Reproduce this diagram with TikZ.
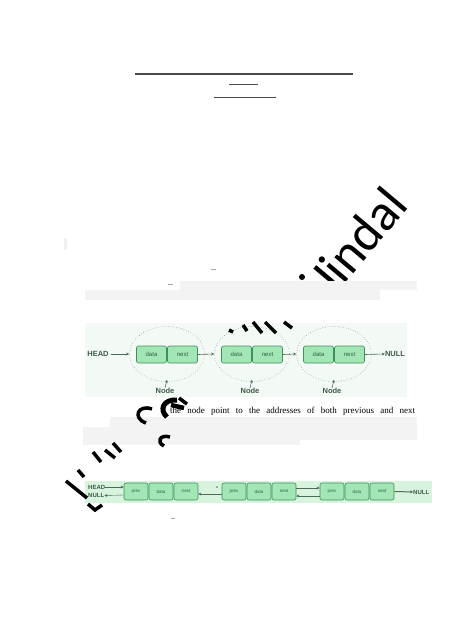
\documentclass[tikz,border=0pt]{standalone}
\usepackage{fontspec}
\setmainfont{Liberation Serif}
\newfontfamily\dsans{Liberation Sans}
\newfontfamily\wmfont{Carlito}
\usetikzlibrary{arrows.meta,shapes.geometric}
\definecolor{rulec}{HTML}{4A4A4A}
\definecolor{boxfill}{HTML}{A2E6B6}
\definecolor{boxedge}{HTML}{3F8F5A}
\definecolor{boxtext}{HTML}{2F5F40}
\definecolor{lbltext}{HTML}{3D5A47}
\definecolor{arrc}{HTML}{4A6E55}
\definecolor{ellc}{HTML}{9A9A9A}
\definecolor{bgone}{HTML}{F3FAF5}
\definecolor{bgtwo}{HTML}{D8F3DE}
\definecolor{bandc}{HTML}{F3F3F3}
\tikzset{
  cell/.style={rectangle, rounded corners=2pt, draw=boxedge, line width=0.6pt, fill=boxfill,
    minimum width=30pt, minimum height=17pt, inner sep=0pt, text=boxtext, font=\dsans\fontsize{6}{6}\selectfont},
  smallcell/.style={cell, minimum width=24pt, minimum height=17pt, font=\dsans\fontsize{4.5}{5}\selectfont},
  nodeell/.style={ellipse, draw=ellc, dotted, line width=0.6pt, minimum width=75pt, minimum height=55pt, inner sep=0pt},
  lbl/.style={inner sep=0pt, text=lbltext, font=\dsans\bfseries\fontsize{7.5}{8}\selectfont},
  smalllbl/.style={inner sep=0pt, text=lbltext, font=\dsans\bfseries\fontsize{6}{6}\selectfont},
  conn/.style={draw=arrc, line width=0.6pt, -{Stealth[length=3pt,width=3pt]}},
  wm/.style={line width=3.5pt, black},
}
\begin{document}
\begin{tikzpicture}[x=1pt,y=-1pt]
\useasboundingbox (0,0) rectangle (474,632);
\fill[white] (0,0) rectangle (474,632);

% header rules
\draw[rulec, line width=1.3pt] (135,74) -- (353,74);
\draw[rulec, line width=1pt] (229,84) -- (258,84);
\draw[rulec, line width=1pt] (214,97) -- (276,97);
\fill[gray!12] (64,238) rectangle (67,250);

% watermark word
\begin{scope}
\clip (0,150) rectangle (474,281);
\node[anchor=base west, inner sep=0pt, rotate=50, font=\wmfont\fontsize{52}{52}\selectfont] (wmword) at (333,298) {Jindal};
\end{scope}

% gray bands
\fill[bandc] (180,281) rectangle (417,290);
\fill[bandc] (85,290) rectangle (380,300);
\draw[gray!70, line width=0.7pt] (211,269) -- (216,269);
\draw[gray!70, line width=0.7pt] (168,284) -- (173,284);
\fill[black] (302,277) circle (3);

% diagram 1
\fill[bgone] (85,323) rectangle (407,397);
\foreach \i/\cx in {1/167,2/252,3/334}{
  \node[nodeell] (e\i) at (\cx,354) {};
  \node[cell] (d\i) at (\cx-15.5,354.5) {data};
  \node[cell] (n\i) at (\cx+15.5,354.5) {next};
  \node[lbl] (lab\i) at (\cx-2,391) {Node};
  \draw[conn] (lab\i.north) -- ([yshift=2pt]e\i.south);
}
\node[lbl] (head) at (98,354) {HEAD};
\node[lbl] (null) at (395,354) {NULL};
\draw[conn] ([xshift=2pt]head.east) -- (e1.west);
\draw[conn] (n1.east) -- (e2.west);
\draw[conn] (n2.east) -- (e3.west);
\draw[conn] (n3.east) -- (null.west);

% paragraph
\fill[bandc] (110,417) rectangle (417,440);
\fill[bandc] (83,427) rectangle (300,445);
\node[anchor=base west, inner sep=0pt, font=\fontsize{9}{10}\selectfont] (para) at (170,413)
  {\makebox[245pt][s]{the node point to the addresses of both previous and next}};

% diagram 2
\fill[bgtwo] (85,481) rectangle (432,503);
\foreach \i/\sx in {1/124,2/222,3/320}{
  \node[smallcell] (p\i) at (\sx+12,491.5) {prev};
  \node[smallcell] (m\i) at (\sx+37,491.5) {data};
  \node[smallcell] (x\i) at (\sx+62,491.5) {next};
}
\node[smalllbl, anchor=west] (head2) at (88,487) {HEAD};
\node[smalllbl, anchor=west] (nulla) at (88,495.5) {NULL};
\node[smalllbl, anchor=west] (nullb) at (413,492) {NULL};
\draw[conn, line width=0.4pt] (head2.east) -- ([yshift=4.5pt]p1.west);
\draw[conn, line width=0.4pt] ([yshift=-3.5pt]p1.west) -- (nulla.east);
\draw[conn, line width=0.4pt] ([yshift=-2.5pt]p2.west) -- ([yshift=-2.5pt]x1.east);
\fill[arrc] (217,487) circle (0.9);
\draw[conn, line width=0.4pt] ([yshift=3.5pt]x2.east) -- ([yshift=3.5pt]p3.west);
\draw[conn, line width=0.4pt] ([yshift=-4.5pt]p3.west) -- ([yshift=-4.5pt]x2.east);
\draw[conn, line width=1pt] (x3.east) -- (nullb.west);
\draw[gray!70, line width=0.7pt] (171,518) -- (175,518);

% watermark fragments
\draw[wm] (229,330) -- (233,332);
\draw[wm] (243,325) -- (247,331);
\draw[wm] (253,322) -- (262,333);
\draw[wm] (265,322) -- (276,333);
\draw[wm] (284,322) -- (292,328);
\draw[wm] (152,409) .. controls (138,404) and (132,418) .. (146,423);
\draw[wm, line width=5pt] (177,400) .. controls (163,399) and (159,410) .. (167,417);
\draw[wm, line width=4.5pt] (171,405) -- (184,408);
\draw[wm] (179,398) -- (187,404);
\draw[wm] (170,437) .. controls (160,434) and (156,442) .. (164,446);
\draw[wm] (93,452) -- (101,462);
\draw[wm] (105,450) -- (115,458);
\draw[wm] (113,443) -- (121,452);
\draw[wm] (78,470) -- (84,477);
\draw[wm] (66,481) -- (87,498);
\draw[wm] (88,504) -- (95,510) -- (102,505);
\end{tikzpicture}
\end{document}
